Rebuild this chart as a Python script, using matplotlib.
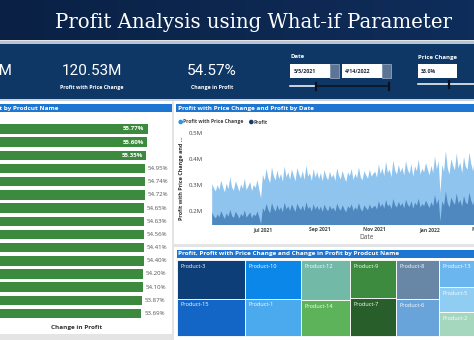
import numpy as np
import pandas as pd
import matplotlib
matplotlib.use('Agg')
import matplotlib.pyplot as plt
import matplotlib.dates as mdates
from matplotlib.patches import Rectangle, Circle
from matplotlib.colors import LinearSegmentedColormap

plt.rcParams['font.family'] = ['Open Sans', 'DejaVu Sans']

# ---- data ----
kpi_values = ['77.98M', '120.53M', '54.57%']
kpi_labels = ['Profit', 'Profit with Price Change', 'Change in Profit']

change_pct = [55.77, 55.60, 55.35, 54.95, 54.74, 54.72, 54.65, 54.63,
              54.56, 54.41, 54.40, 54.20, 54.10, 53.87, 53.69]

dates = pd.date_range('2021-05-05', periods=173, freq='2D')
profit_k = [195, 180, 172, 188, 176, 200, 183, 170, 192, 178, 205, 181, 174, 198, 186, 171, 190, 179, 203, 175,
            185, 196, 172, 188, 181, 199, 176,
            150,
            212, 198, 228, 205, 192, 231, 210, 199, 224, 203, 215, 196, 233, 207, 219, 201, 226, 211, 197, 229,
            214, 204, 222, 200, 235, 209, 217, 198, 227, 206, 220,
            203, 218, 197, 225, 209, 200, 221, 206, 214, 198, 229, 211, 202, 223, 207, 196, 219, 210, 227, 201,
            215, 205, 231, 208, 199, 222, 212, 204, 226, 209, 216,
            221, 206, 238, 215, 229, 210, 243, 218, 226, 208, 247, 223, 214, 236, 219, 231, 211, 244, 225, 216,
            239, 209, 233, 222, 248, 214, 228, 219, 241, 226, 212,
            235, 218, 262, 226, 247, 160, 238, 221, 276, 230, 214, 252, 236, 224, 268, 229, 243, 217, 258, 233,
            226, 271, 240, 222, 255, 231, 248, 219, 264,
            236, 252, 225, 268, 241, 229, 259, 234, 247, 222, 265, 238, 251, 227, 261, 244, 233, 257, 230, 249,
            240, 262, 235]
profit_pc_k = [305, 288, 276, 300, 282, 318, 292, 273, 306, 285, 330, 290, 279, 315, 297, 275, 303, 287, 325, 281,
               296, 312, 277, 301, 290, 320, 283,
               250,
               340, 318, 362, 327, 308, 368, 335, 318, 357, 324, 343, 313, 372, 330, 349, 321, 360, 337, 315, 366,
               342, 326, 354, 320, 375, 333, 346, 316, 362, 329, 351,
               323, 347, 315, 358, 333, 319, 352, 328, 341, 316, 365, 336, 322, 355, 330, 312, 349, 335, 362, 320,
               343, 327, 368, 331, 318, 354, 338, 325, 360, 333, 344,
               352, 329, 380, 343, 365, 335, 389, 347, 360, 331, 395, 356, 341, 377, 349, 368, 337, 392, 359, 344,
               381, 333, 372, 354, 398, 341, 364, 349, 385, 360, 338,
               374, 347, 410, 360, 392, 270, 378, 352, 432, 366, 341, 400, 375, 357, 422, 365, 387, 346, 408, 371,
               360, 425, 382, 353, 404, 368, 394, 349, 418,
               376, 400, 358, 420, 383, 364, 410, 372, 392, 354, 418, 379, 398, 361, 413, 388, 371, 406, 366, 395,
               381, 415, 374]

tm_products = ['Product-3', 'Product-15', 'Product-10', 'Product-1', 'Product-12', 'Product-14',
               'Product-9', 'Product-7', 'Product-8', 'Product-6', 'Product-13', 'Product-5', 'Product-2']
tm_profit = [9.03, 8.57, 7.25, 7.05, 6.62, 5.95, 5.95, 5.85, 5.62, 5.33, 3.83, 3.54, 3.40]
tm_columns = [[0, 1], [2, 3], [4, 5], [6, 7], [8, 9], [10, 11, 12]]
tm_colors = ['#0d3e78', '#1466c6', '#0b86e9', '#4ba9ee', '#72b9a8', '#5cb35a', '#3d8b3f',
             '#285e29', '#6886a6', '#68a3d9', '#6cb6f0', '#8fcdf3', '#a5d7bf']

W, H = 474, 340
fig = plt.figure(figsize=(W / 100, H / 100), dpi=100)
fig.patch.set_facecolor('#e4e4e4')


def px_axes(x0, y0, x1, y1):
    return fig.add_axes([x0 / W, 1 - y1 / H, (x1 - x0) / W, (y1 - y0) / H])


bg = fig.add_axes([0, 0, 1, 1])
bg.set_xlim(0, W)
bg.set_ylim(H, 0)
bg.axis('off')


def rect(x, y, w, h, c, **kw):
    bg.add_patch(Rectangle((x, y), w, h, facecolor=c, lw=kw.pop('lw', 0), **kw))


# title band
cmap = LinearSegmentedColormap.from_list('band', ['#0a2145', '#0f2d5a'])
bg.imshow(np.linspace(0, 1, 100).reshape(1, -1), cmap=cmap, extent=[0, W, 40, 0], aspect='auto', zorder=0)
bg.text(254, 22, 'Profit Analysis using What-if Parameter', color='white', fontsize=14.2,
        family='DejaVu Serif', ha='center', va='center')
rect(0, 40.5, W, 3.2, '#b3c5da')
rect(0, 43.7, W, 55, '#0f3766')
rect(0, 98.7, W, 2, '#c9d3df')

# KPI cards (the first card sits mostly off the left edge, only its "M" shows)
kpi_x = [12.5, 92, 212]
bg.text(kpi_x[0], 71, kpi_values[0], color='white', fontsize=11, family='Roboto', ha='right', va='center')
for i in (1, 2):
    bg.text(kpi_x[i], 71, kpi_values[i], color='white', fontsize=11, family='Roboto', ha='center', va='center')
    bg.text(kpi_x[i], 87.5, kpi_labels[i], color='white', fontsize=3.8, weight='bold', ha='center', va='center')

# date slicer
bg.text(290.5, 57, 'Date', color='white', fontsize=4.3, weight='bold', ha='left', va='center')
for bx0, bx1, txt in [(290.5, 330, '5/5/2021'), (341.7, 381.7, '4/14/2022')]:
    rect(bx0, 64, bx1 - bx0, 14.3, 'white')
    rect(bx1, 64, 9, 14.3, '#5d7594', edgecolor='#8fa3bd', lw=0.6)
    bg.text(bx0 + 3, 71.3, txt, color='#1d2a3a', fontsize=3.8, weight='bold', ha='left', va='center')
bg.plot([290.5, 315.7], [86, 86], color='white', lw=1.1)
bg.plot([315.7, 389.5], [86, 86], color='#0a1220', lw=1.1)
bg.plot([315.7, 315.7], [82.5, 89.5], color='#0a1220', lw=1.6)
bg.plot([389.5, 389.5], [82.5, 89.5], color='#0a1220', lw=1.6)

# price change slicer
bg.text(418, 57, 'Price Change', color='white', fontsize=4.3, weight='bold', ha='left', va='center')
rect(417.7, 64, 39, 14.3, 'white')
bg.text(420.5, 71.3, '33.0%', color='#1d2a3a', fontsize=3.8, weight='bold', ha='left', va='center')
bg.plot([418, 474], [84, 84], color='white', lw=1.1)
bg.plot([448.7, 448.7], [80.5, 87.5], color='#0a1220', lw=1.6)

# panels
rect(0, 101, 172, 233, 'white')
rect(174.5, 101, 300, 143, 'white')
rect(174.5, 246.5, 300, 94, 'white')
hdr = '#1d76d2'
rect(0, 104, 172, 8.3, hdr)
bg.text(58.5, 108.2, 'Change in Profit by Prodcut Name', color='white', fontsize=4.6, weight='bold',
        ha='right', va='center')
rect(176, 104, 300, 8.3, hdr)
bg.text(178.3, 108.2, 'Profit with Price Change and Profit by Date', color='white', fontsize=4.6,
        weight='bold', ha='left', va='center')
rect(176.7, 249.5, 300, 8.8, hdr)
bg.text(178.3, 253.9, 'Profit, Profit with Price Change and Change in Profit by Prodcut Name', color='white',
        fontsize=4.6, weight='bold', ha='left', va='center')

# treemap
tm_x0, tm_y0, tm_w, tm_h = 176.7, 260, 304.5, 76
total = sum(tm_profit)
x = tm_x0
for col in tm_columns:
    col_sum = sum(tm_profit[i] for i in col)
    cw = tm_w * col_sum / total
    y = tm_y0
    for i in col:
        ch = tm_h * tm_profit[i] / col_sum
        bg.add_patch(Rectangle((x, y), cw, ch, facecolor=tm_colors[i], edgecolor='white', lw=0.6))
        bg.text(x + 3.5, y + 6, tm_products[i], color='white', fontsize=4.1, ha='left', va='center')
        y += ch
    x += cw

# bar chart
bx = px_axes(-18.5, 122.4, 160.3, 320.1)
bx.set_facecolor('none')
ypos = np.arange(len(change_pct))
bx.barh(ypos, change_pct, height=0.72, color='#3b8a3e')
bx.set_xlim(0, 60)
bx.set_ylim(len(change_pct) - 0.5, -0.5)
bx.axis('off')
for i, v in enumerate(change_pct):
    if i < 3:
        bx.text(v - 1.2, i, f'{v:.2f}%', color='white', fontsize=4.4, weight='bold', ha='right', va='center')
    else:
        bx.text(v + 0.9, i, f'{v:.2f}%', color='#555555', fontsize=4.4, ha='left', va='center')
bg.text(77, 327, 'Change in Profit', color='#333333', fontsize=4.6, weight='bold', ha='center', va='center')

# area chart
tx = px_axes(211.7, 128, 523.3, 224.3)
tx.set_facecolor('none')
light = np.array(profit_pc_k) / 1000
dark = np.array(profit_k) / 1000
tx.fill_between(dates, 0, light, color='#8fc4ef', lw=0)
tx.fill_between(dates, 0, dark, color='#4f87bf', lw=0)
tx.set_xlim(dates[0], dates[-1])
tx.set_ylim(0.1477, 0.518)
tx.set_yticks([0.2, 0.3, 0.4, 0.5])
tx.set_yticklabels(['0.2M', '0.3M', '0.4M', '0.5M'])
tx.set_xticks(pd.to_datetime(['2021-07-01', '2021-09-01', '2021-11-01', '2022-01-01', '2022-03-01']))
tx.xaxis.set_major_formatter(mdates.DateFormatter('%b %Y'))
for s in tx.spines.values():
    s.set_visible(False)
tx.tick_params(axis='y', length=0, pad=6, labelsize=4.4, labelcolor='#444444')
tx.tick_params(axis='x', length=0, pad=2, labelsize=3.6, labelcolor='#444444')
for lab in tx.get_xticklabels():
    lab.set_fontweight('bold')
bg.text(181.7, 178, 'Profit with Price Change and ...', color='#333333', fontsize=4.0, weight='bold',
        rotation=90, ha='center', va='center')
bg.text(366.7, 237.7, 'Date', color='#555555', fontsize=4.8, ha='center', va='center')

# legend
bg.add_patch(Circle((180.7, 122), 1.6, color='#2b93ea'))
bg.text(183, 122, 'Profit with Price Change', color='#444444', fontsize=3.6, weight='bold', ha='left', va='center')
bg.add_patch(Circle((251.3, 122), 1.6, color='#123c6c'))
bg.text(253.6, 122, 'Profit', color='#444444', fontsize=3.6, weight='bold', ha='left', va='center')

fig.savefig('out.png', dpi=100, facecolor=fig.get_facecolor())
